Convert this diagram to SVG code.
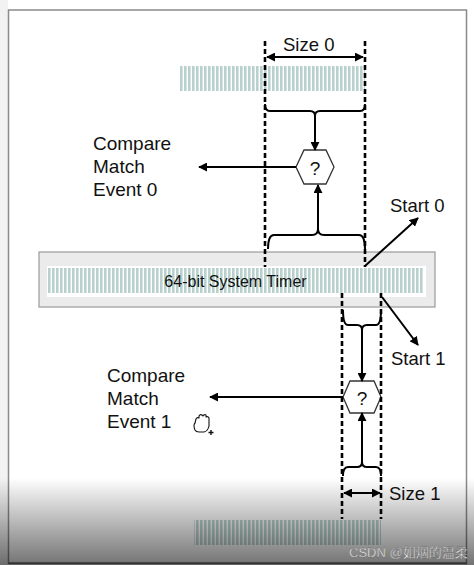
<svg xmlns="http://www.w3.org/2000/svg" width="474" height="565" viewBox="0 0 474 565">
<style>
.t{font-family:"Liberation Sans",Arial,sans-serif;fill:#111}
.dash{stroke:#000;stroke-width:2.6;stroke-dasharray:5 3;fill:none}
.ln{stroke:#000;stroke-width:2;fill:none}
.hex{fill:#fff;stroke:#333;stroke-width:1.3}
</style>
<defs>
<pattern id="st" width="4" height="40" patternUnits="userSpaceOnUse">
<rect x="0" y="0" width="2.6" height="40" fill="#b9d1cd"/>
</pattern>
<marker id="ah" viewBox="0 0 10 10" refX="9" refY="5" markerWidth="9" markerHeight="9" markerUnits="userSpaceOnUse" orient="auto-start-reverse">
<path d="M0,0 L10,5 L0,10 z" fill="#000"/>
</marker>
<linearGradient id="shade" x1="0" y1="0" x2="0" y2="1">
<stop offset="0" stop-color="#000" stop-opacity="0"/>
<stop offset="1" stop-color="#000" stop-opacity="0.55"/>
</linearGradient>
</defs>
<rect x="0" y="0" width="474" height="565" fill="#fff"/>
<rect x="0" y="0" width="8" height="565" fill="#f2f2f2"/>
<rect x="8.5" y="10" width="458" height="553" fill="#fff" stroke="#8a8a8a" stroke-width="1.5"/>

<g id="bar-top"><rect x="179" y="66" width="186" height="25" fill="url(#st)"/></g>

<g id="timer">
<rect x="39" y="252" width="396" height="55" fill="#ebebeb" stroke="#9a9a9a" stroke-width="1.2"/>
<rect x="47" y="266" width="379" height="31" fill="#fff"/>
<rect x="48" y="268" width="376" height="25" fill="url(#st)"/>
<text class="t" x="235.5" y="287" font-size="16" text-anchor="middle">64-bit System Timer</text>
</g>

<g id="bar-bottom"><rect x="194" y="520" width="187" height="25" fill="url(#st)"/></g>

<g id="hex0">
<polygon class="hex" points="296,167 304,150 326,150 334,167 326,184 304,184"/>
<text class="t" x="315" y="175" font-size="19" text-anchor="middle">?</text>
</g>
<g id="hex1">
<polygon class="hex" points="343,397 350,381 374,381 381,397 374,413 350,413"/>
<text class="t" x="362" y="405" font-size="19" text-anchor="middle">?</text>
</g>

<g id="labels">
<text class="t" x="283" y="51" font-size="18.5">Size 0</text>
<text class="t" x="93" y="150" font-size="19">Compare</text>
<text class="t" x="93" y="173" font-size="19">Match</text>
<text class="t" x="93" y="196" font-size="19">Event 0</text>
<text class="t" x="390" y="212" font-size="18.5">Start 0</text>
<text class="t" x="391" y="365" font-size="18.5">Start 1</text>
<text class="t" x="107" y="382" font-size="19">Compare</text>
<text class="t" x="107" y="405" font-size="19">Match</text>
<text class="t" x="107" y="428" font-size="19">Event 1</text>
<text class="t" x="389" y="500" font-size="18.5">Size 1</text>
</g>

<g id="cursor" fill="#fff" stroke="#111" stroke-width="1.1" stroke-linejoin="round">
<path d="M195,430 Q193,425 195,423 L196,419 Q197,417 199,418 L199,416 Q200,414 202,415 L203,416 Q204,414 206,415 L206,417 Q208,416 209,418 L209,426 Q208,431 204,432 L199,432 Q196,432 195,430 Z"/>
<path d="M211,430 v5 M208.5,432.5 h5" stroke-width="1.4"/>
</g>

<g id="connectors">
<line class="dash" x1="265" y1="41" x2="265" y2="267"/>
<line class="dash" x1="365" y1="41" x2="365" y2="267"/>
<line class="dash" x1="342" y1="293" x2="342" y2="519"/>
<line class="dash" x1="381" y1="293" x2="381" y2="519"/>

<line class="ln" x1="267" y1="57" x2="363" y2="57" marker-start="url(#ah)" marker-end="url(#ah)"/>
<path class="ln" d="M265,104 Q265,111 270,111 H310 Q315,111 315,116 Q315,111 320,111 H360 Q365,111 365,104"/>
<line class="ln" x1="315" y1="116" x2="315" y2="150" marker-end="url(#ah)"/>
<line class="ln" x1="296" y1="167" x2="199" y2="167" marker-end="url(#ah)"/>
<path class="ln" d="M268,249 Q268,235 274,235 H312 Q318,235 318,229 Q318,235 324,235 H359 Q365,235 365,249"/>
<line class="ln" x1="318" y1="229" x2="318" y2="185" marker-end="url(#ah)"/>
<line class="ln" x1="365" y1="266" x2="418" y2="218" marker-end="url(#ah)"/>

<line class="ln" x1="382" y1="297" x2="418" y2="345" marker-end="url(#ah)"/>
<path class="ln" d="M343,310 Q343,325 348,325 H357 Q362,325 362,330 Q362,325 367,325 H376 Q381,325 381,310"/>
<line class="ln" x1="362" y1="330" x2="362" y2="381" marker-end="url(#ah)"/>
<line class="ln" x1="343" y1="397" x2="210" y2="397" marker-end="url(#ah)"/>
<path class="ln" d="M343,476 Q343,467 348,467 H357 Q362,467 362,462 Q362,467 367,467 H376 Q381,467 381,476"/>
<line class="ln" x1="362" y1="462" x2="362" y2="413" marker-end="url(#ah)"/>
<line class="ln" x1="344" y1="493" x2="380" y2="493" marker-start="url(#ah)" marker-end="url(#ah)"/>
</g>

<rect x="0" y="478" width="474" height="87" fill="url(#shade)"/>
<line x1="8" y1="563.5" x2="467" y2="563.5" stroke="#333" stroke-width="1.5"/>
<text x="349" y="557" font-size="13" font-family="'Liberation Sans','Noto Sans CJK SC',sans-serif" fill="#f2f2f2" stroke="#555" stroke-width="0.3">CSDN @如烟的温柔</text>
</svg>
